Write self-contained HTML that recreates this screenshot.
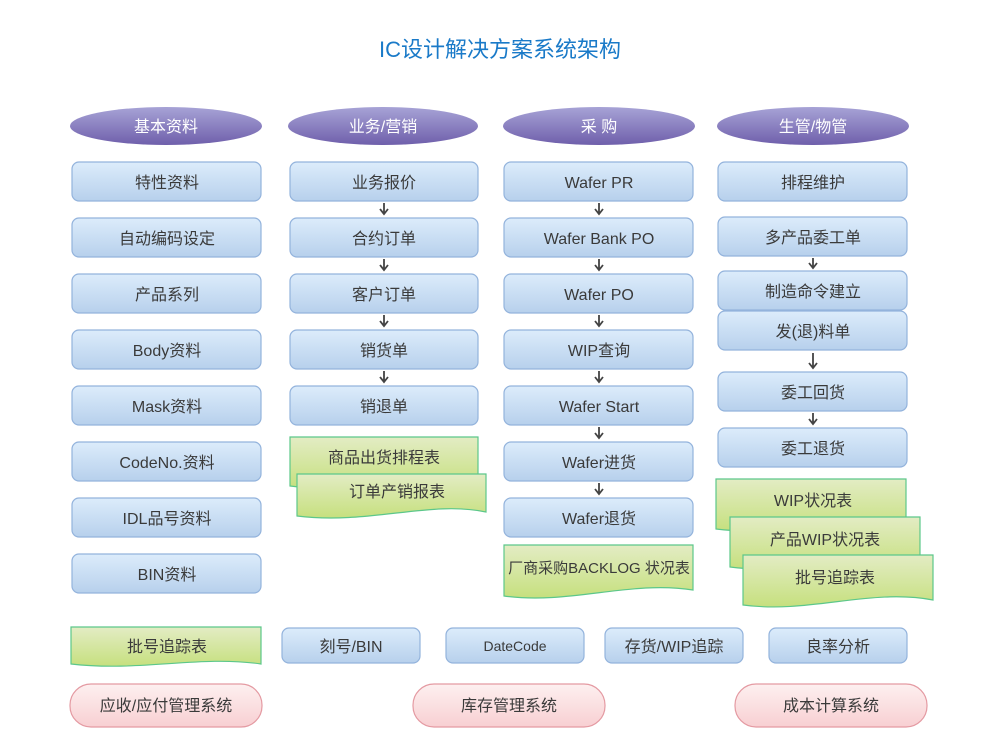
<!DOCTYPE html>
<html><head><meta charset="utf-8"><style>
html,body{margin:0;padding:0;background:#fff;}
svg text{font-family:"Liberation Sans","Noto Sans CJK SC",sans-serif;}
</style></head><body>
<svg width="999" height="737" viewBox="0 0 999 737" xmlns="http://www.w3.org/2000/svg">
<defs>
<linearGradient id="bl" x1="0" y1="0" x2="0" y2="1"><stop offset="0" stop-color="#dcecfb"/><stop offset="1" stop-color="#b7d0ec"/></linearGradient>
<linearGradient id="gr" x1="0" y1="0" x2="0" y2="1"><stop offset="0" stop-color="#e3ecc4"/><stop offset="1" stop-color="#c6e07e"/></linearGradient>
<linearGradient id="pk" x1="0" y1="0" x2="0" y2="1"><stop offset="0" stop-color="#fdf0f0"/><stop offset="1" stop-color="#f8cfd2"/></linearGradient>
<linearGradient id="pu" x1="0" y1="0" x2="0" y2="1"><stop offset="0" stop-color="#a7a3d6"/><stop offset="1" stop-color="#6f5fab"/></linearGradient>
</defs>
<text x="500" y="57" text-anchor="middle" font-size="22" fill="#1a7ac8">IC设计解决方案系统架构</text>

<g font-size="16" fill="#fff" text-anchor="middle">
<ellipse cx="166" cy="126" rx="96" ry="19" fill="url(#pu)"/><text x="166" y="132">基本资料</text>
<ellipse cx="383" cy="126" rx="95" ry="19" fill="url(#pu)"/><text x="383" y="132">业务/营销</text>
<ellipse cx="599" cy="126" rx="96" ry="19" fill="url(#pu)"/><text x="599" y="132">采 购</text>
<ellipse cx="813" cy="126" rx="96" ry="19" fill="url(#pu)"/><text x="813" y="132">生管/物管</text>
</g>

<g fill="url(#bl)" stroke="#93b3dc" stroke-width="1.2">
<rect x="72" y="162" width="189" height="39" rx="7"/>
<rect x="72" y="218" width="189" height="39" rx="7"/>
<rect x="72" y="274" width="189" height="39" rx="7"/>
<rect x="72" y="330" width="189" height="39" rx="7"/>
<rect x="72" y="386" width="189" height="39" rx="7"/>
<rect x="72" y="442" width="189" height="39" rx="7"/>
<rect x="72" y="498" width="189" height="39" rx="7"/>
<rect x="72" y="554" width="189" height="39" rx="7"/>
<rect x="290" y="162" width="188" height="39" rx="7"/>
<rect x="290" y="218" width="188" height="39" rx="7"/>
<rect x="290" y="274" width="188" height="39" rx="7"/>
<rect x="290" y="330" width="188" height="39" rx="7"/>
<rect x="290" y="386" width="188" height="39" rx="7"/>
<rect x="504" y="162" width="189" height="39" rx="7"/>
<rect x="504" y="218" width="189" height="39" rx="7"/>
<rect x="504" y="274" width="189" height="39" rx="7"/>
<rect x="504" y="330" width="189" height="39" rx="7"/>
<rect x="504" y="386" width="189" height="39" rx="7"/>
<rect x="504" y="442" width="189" height="39" rx="7"/>
<rect x="504" y="498" width="189" height="39" rx="7"/>
<rect x="718" y="162" width="189" height="39" rx="7"/>
<rect x="718" y="217" width="189" height="39" rx="7"/>
<rect x="718" y="271" width="189" height="39" rx="7"/>
<rect x="718" y="311" width="189" height="39" rx="7"/>
<rect x="718" y="372" width="189" height="39" rx="7"/>
<rect x="718" y="428" width="189" height="39" rx="7"/>
<rect x="282" y="628" width="138" height="35" rx="7"/>
<rect x="446" y="628" width="138" height="35" rx="7"/>
<rect x="605" y="628" width="138" height="35" rx="7"/>
<rect x="769" y="628" width="138" height="35" rx="7"/>
</g>

<g stroke="#444" stroke-width="1.8" fill="none">
<path d="M384,203 V214 M380,209 L384,214 L388,209"/>
<path d="M384,259 V270 M380,265 L384,270 L388,265"/>
<path d="M384,315 V326 M380,321 L384,326 L388,321"/>
<path d="M384,371 V382 M380,377 L384,382 L388,377"/>
<path d="M599,203 V214 M595,209 L599,214 L603,209"/>
<path d="M599,259 V270 M595,265 L599,270 L603,265"/>
<path d="M599,315 V326 M595,321 L599,326 L603,321"/>
<path d="M599,371 V382 M595,377 L599,382 L603,377"/>
<path d="M599,427 V438 M595,433 L599,438 L603,433"/>
<path d="M599,483 V494 M595,489 L599,494 L603,489"/>
<path d="M813,258 V268 M809,263 L813,268 L817,263"/>
<path d="M813,353 V368 M809,363 L813,368 L817,363"/>
<path d="M813,413 V424 M809,419 L813,424 L817,419"/>
</g>

<g fill="url(#gr)" stroke="#5cc78a" stroke-width="1.2">
<path d="M290,437 H478 V480 C420,470 360,495 290,486 Z"/>
<path d="M297,474 H486 V512 C430,500 370,525 297,516 Z"/>
<path d="M504,545 H693 V590 C630,580 570,605 504,596 Z"/>
<path d="M716,479 H906 V523 C850,512 790,538 716,529 Z"/>
<path d="M730,517 H920 V561 C860,550 800,576 730,567 Z"/>
<path d="M743,555 H933 V600 C870,588 810,614 743,605 Z"/>
<path d="M71,627 H261 V664 C200,655 140,672 71,664 Z"/>
</g>

<g fill="url(#pk)" stroke="#e49aa2" stroke-width="1.2">
<rect x="70" y="684" width="192" height="43" rx="21"/>
<rect x="413" y="684" width="192" height="43" rx="21"/>
<rect x="735" y="684" width="192" height="43" rx="21"/>
</g>

<g font-size="16" fill="#3a3a3a" text-anchor="middle">
<text x="167" y="188">特性资料</text>
<text x="167" y="244">自动编码设定</text>
<text x="167" y="300">产品系列</text>
<text x="167" y="356">Body资料</text>
<text x="167" y="412">Mask资料</text>
<text x="167" y="468">CodeNo.资料</text>
<text x="167" y="524">IDL品号资料</text>
<text x="167" y="580">BIN资料</text>
<text x="384" y="188">业务报价</text>
<text x="384" y="244">合约订单</text>
<text x="384" y="300">客户订单</text>
<text x="384" y="356">销货单</text>
<text x="384" y="412">销退单</text>
<text x="384" y="463">商品出货排程表</text>
<text x="397" y="497">订单产销报表</text>
<text x="599" y="188">Wafer PR</text>
<text x="599" y="244">Wafer Bank PO</text>
<text x="599" y="300">Wafer PO</text>
<text x="599" y="356">WIP查询</text>
<text x="599" y="412">Wafer Start</text>
<text x="599" y="468">Wafer进货</text>
<text x="599" y="524">Wafer退货</text>
<text x="599" y="573" font-size="15">厂商采购BACKLOG 状况表</text>
<text x="813" y="188">排程维护</text>
<text x="813" y="243">多产品委工单</text>
<text x="813" y="297">制造命令建立</text>
<text x="813" y="337">发(退)料单</text>
<text x="813" y="398">委工回货</text>
<text x="813" y="454">委工退货</text>
<text x="813" y="506">WIP状况表</text>
<text x="825" y="545">产品WIP状况表</text>
<text x="835" y="583">批号追踪表</text>
<text x="167" y="652">批号追踪表</text>
<text x="351" y="652">刻号/BIN</text>
<text x="515" y="651" font-size="14">DateCode</text>
<text x="674" y="652">存货/WIP追踪</text>
<text x="838" y="652">良率分析</text>
<text x="166" y="711">应收/应付管理系统</text>
<text x="509" y="711">库存管理系统</text>
<text x="831" y="711">成本计算系统</text>
</g>
</svg>
</body></html>
